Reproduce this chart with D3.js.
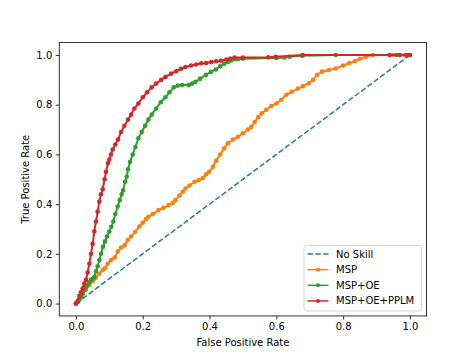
<!DOCTYPE html>
<html><head><meta charset="utf-8">
<script src="https://cdn.jsdelivr.net/npm/d3@7"></script>
<style>body{margin:0;background:#fff}svg{display:block}text{font-family:"DejaVu Sans",sans-serif;fill:#000}</style>
</head><body><svg id="c" width="474" height="355"></svg>
<script>
const seriesNames = ["No Skill", "MSP", "MSP+OE", "MSP+OE+PPLM"];
const ticks = [0, 0.2, 0.4, 0.6, 0.8, 1.0];
const noSkill = [[0,0],[1,1]];
const msp = [[0,0],[0.01,0.015],[0.02,0.035],[0.03,0.055],[0.04,0.075],[0.05,0.09],[0.055,0.1],[0.06,0.105],[0.07,0.12],[0.08,0.135],[0.086,0.141],[0.095,0.16],[0.105,0.175],[0.116,0.185],[0.125,0.21],[0.135,0.225],[0.146,0.235],[0.155,0.255],[0.165,0.27],[0.177,0.288],[0.19,0.31],[0.2,0.325],[0.21,0.34],[0.217,0.349],[0.23,0.36],[0.247,0.376],[0.262,0.385],[0.278,0.396],[0.29,0.405],[0.298,0.416],[0.31,0.435],[0.32,0.45],[0.328,0.463],[0.34,0.475],[0.355,0.49],[0.368,0.497],[0.38,0.505],[0.39,0.52],[0.399,0.53],[0.41,0.55],[0.42,0.575],[0.432,0.6],[0.444,0.625],[0.455,0.645],[0.47,0.66],[0.485,0.671],[0.5,0.685],[0.515,0.7],[0.525,0.711],[0.535,0.73],[0.546,0.75],[0.556,0.765],[0.57,0.78],[0.585,0.795],[0.6,0.805],[0.615,0.82],[0.63,0.84],[0.646,0.852],[0.665,0.865],[0.68,0.875],[0.697,0.886],[0.71,0.9],[0.722,0.92],[0.737,0.933],[0.757,0.94],[0.778,0.946],[0.8,0.958],[0.818,0.967],[0.835,0.975],[0.85,0.985],[0.868,0.993],[0.889,1.0],[0.95,1.0],[0.985,1.0],[1,1]];
const mspOe = [[0,0],[0.005,0.005],[0.01,0.015],[0.015,0.025],[0.02,0.04],[0.025,0.054],[0.03,0.065],[0.035,0.075],[0.04,0.085],[0.045,0.095],[0.05,0.1],[0.055,0.107],[0.06,0.13],[0.065,0.15],[0.07,0.175],[0.075,0.2],[0.081,0.228],[0.087,0.25],[0.093,0.27],[0.1,0.29],[0.106,0.309],[0.112,0.33],[0.118,0.36],[0.125,0.39],[0.131,0.416],[0.137,0.44],[0.141,0.456],[0.147,0.49],[0.152,0.51],[0.156,0.54],[0.162,0.57],[0.17,0.6],[0.178,0.63],[0.187,0.665],[0.197,0.69],[0.207,0.715],[0.217,0.74],[0.227,0.76],[0.24,0.785],[0.254,0.81],[0.268,0.83],[0.28,0.85],[0.293,0.87],[0.305,0.877],[0.318,0.879],[0.338,0.879],[0.348,0.885],[0.358,0.892],[0.372,0.905],[0.389,0.92],[0.404,0.932],[0.419,0.942],[0.432,0.955],[0.444,0.965],[0.455,0.972],[0.465,0.978],[0.485,0.983],[0.5,0.985],[0.6,0.988],[0.625,0.99],[0.64,0.993],[0.677,0.997],[0.778,1.0],[0.96,1.0],[1,1]];
const mspOePplm = [[0,0],[0.005,0.01],[0.01,0.03],[0.015,0.045],[0.02,0.06],[0.025,0.08],[0.03,0.095],[0.035,0.125],[0.04,0.16],[0.045,0.2],[0.05,0.24],[0.055,0.29],[0.06,0.33],[0.065,0.37],[0.07,0.41],[0.075,0.44],[0.08,0.46],[0.086,0.5],[0.09,0.53],[0.096,0.565],[0.1,0.58],[0.105,0.6],[0.11,0.62],[0.118,0.64],[0.126,0.66],[0.135,0.69],[0.145,0.715],[0.156,0.74],[0.165,0.76],[0.175,0.785],[0.187,0.805],[0.2,0.83],[0.213,0.85],[0.227,0.87],[0.24,0.885],[0.255,0.9],[0.268,0.912],[0.285,0.925],[0.3,0.935],[0.315,0.945],[0.328,0.952],[0.345,0.958],[0.36,0.962],[0.375,0.967],[0.39,0.968],[0.405,0.972],[0.42,0.975],[0.434,0.977],[0.45,0.982],[0.462,0.986],[0.475,0.99],[0.5,0.99],[0.576,0.991],[0.598,0.993],[0.679,1.0],[0.939,1.0],[0.97,1.0],[0.99,1.0],[1,1]];
const seriesData = [noSkill, msp, mspOe, mspOePplm];
const colors = ["#1f77b4", "#ff7f0e", "#2ca02c", "#d62728"];

const svg = d3.select("#c");
const L = 59.25, R = 426.6, T = 42.6, B = 315.95;
const x = d3.scaleLinear().domain([-0.05, 1.05]).range([L, R]);
const y = d3.scaleLinear().domain([-0.05, 1.05]).range([B, T]);

const xAxis = svg.append("g").attr("transform", `translate(0,${B})`)
  .call(d3.axisBottom(x).tickValues(ticks).tickFormat(d3.format(".1f")).tickSize(3.5).tickPadding(3.5));
const yAxis = svg.append("g").attr("transform", `translate(${L},0)`)
  .call(d3.axisLeft(y).tickValues(ticks).tickFormat(d3.format(".1f")).tickSize(3.5).tickPadding(3.5));
[xAxis, yAxis].forEach(g => {
  g.select(".domain").remove();
  g.selectAll("line").attr("stroke", "#000").attr("stroke-width", 0.8);
  g.selectAll("text").attr("font-size", 10).attr("font-family", "DejaVu Sans");
});

const clip = svg.append("clipPath").attr("id", "clp").append("rect")
  .attr("x", L).attr("y", T).attr("width", R - L).attr("height", B - T);
const plot = svg.append("g").attr("clip-path", "url(#clp)");
const line = d3.line().x(d => x(d[0])).y(d => y(d[1]));

seriesData.forEach((data, i) => {
  plot.append("path").datum(data).attr("d", line).attr("fill", "none")
    .attr("stroke", colors[i]).attr("stroke-width", i === 0 ? 1.5 : 2)
    .attr("stroke-dasharray", i === 0 ? "5.5,2.4" : null);
  if (i > 0) {
    plot.append("g").selectAll("circle").data(data).join("circle")
      .attr("cx", d => x(d[0])).attr("cy", d => y(d[1])).attr("r", 2.3)
      .attr("fill", colors[i]);
  }
});

svg.append("rect").attr("x", L).attr("y", T).attr("width", R - L).attr("height", B - T)
  .attr("fill", "none").attr("stroke", "#000").attr("stroke-width", 0.8);

svg.append("text").attr("x", (L + R) / 2).attr("y", 346).attr("text-anchor", "middle")
  .attr("font-size", 10).text("False Positive Rate");
svg.append("text").attr("transform", `translate(25,${(T + B) / 2}) rotate(-90)`)
  .attr("text-anchor", "middle").attr("dy", "0.35em").attr("font-size", 10).text("True Positive Rate");

// legend
const lg = svg.append("g");
lg.append("rect").attr("x", 304).attr("y", 245.5).attr("width", 117.5).attr("height", 65.5)
  .attr("rx", 2.5).attr("fill", "#fff").attr("fill-opacity", 0.8)
  .attr("stroke", "#cccccc").attr("stroke-width", 0.8);
seriesNames.forEach((name, i) => {
  const cy = 254 + i * 15.65;
  lg.append("line").attr("x1", 307.5).attr("x2", 328.5).attr("y1", cy).attr("y2", cy)
    .attr("stroke", colors[i]).attr("stroke-width", 1.5)
    .attr("stroke-dasharray", i === 0 ? "5.5,2.4" : null);
  if (i > 0) lg.append("circle").attr("cx", 318).attr("cy", cy).attr("r", 2).attr("fill", colors[i]);
  lg.append("text").attr("x", 336).attr("y", cy).attr("dy", "0.35em").attr("font-size", 10).text(name);
});
</script></body></html>
